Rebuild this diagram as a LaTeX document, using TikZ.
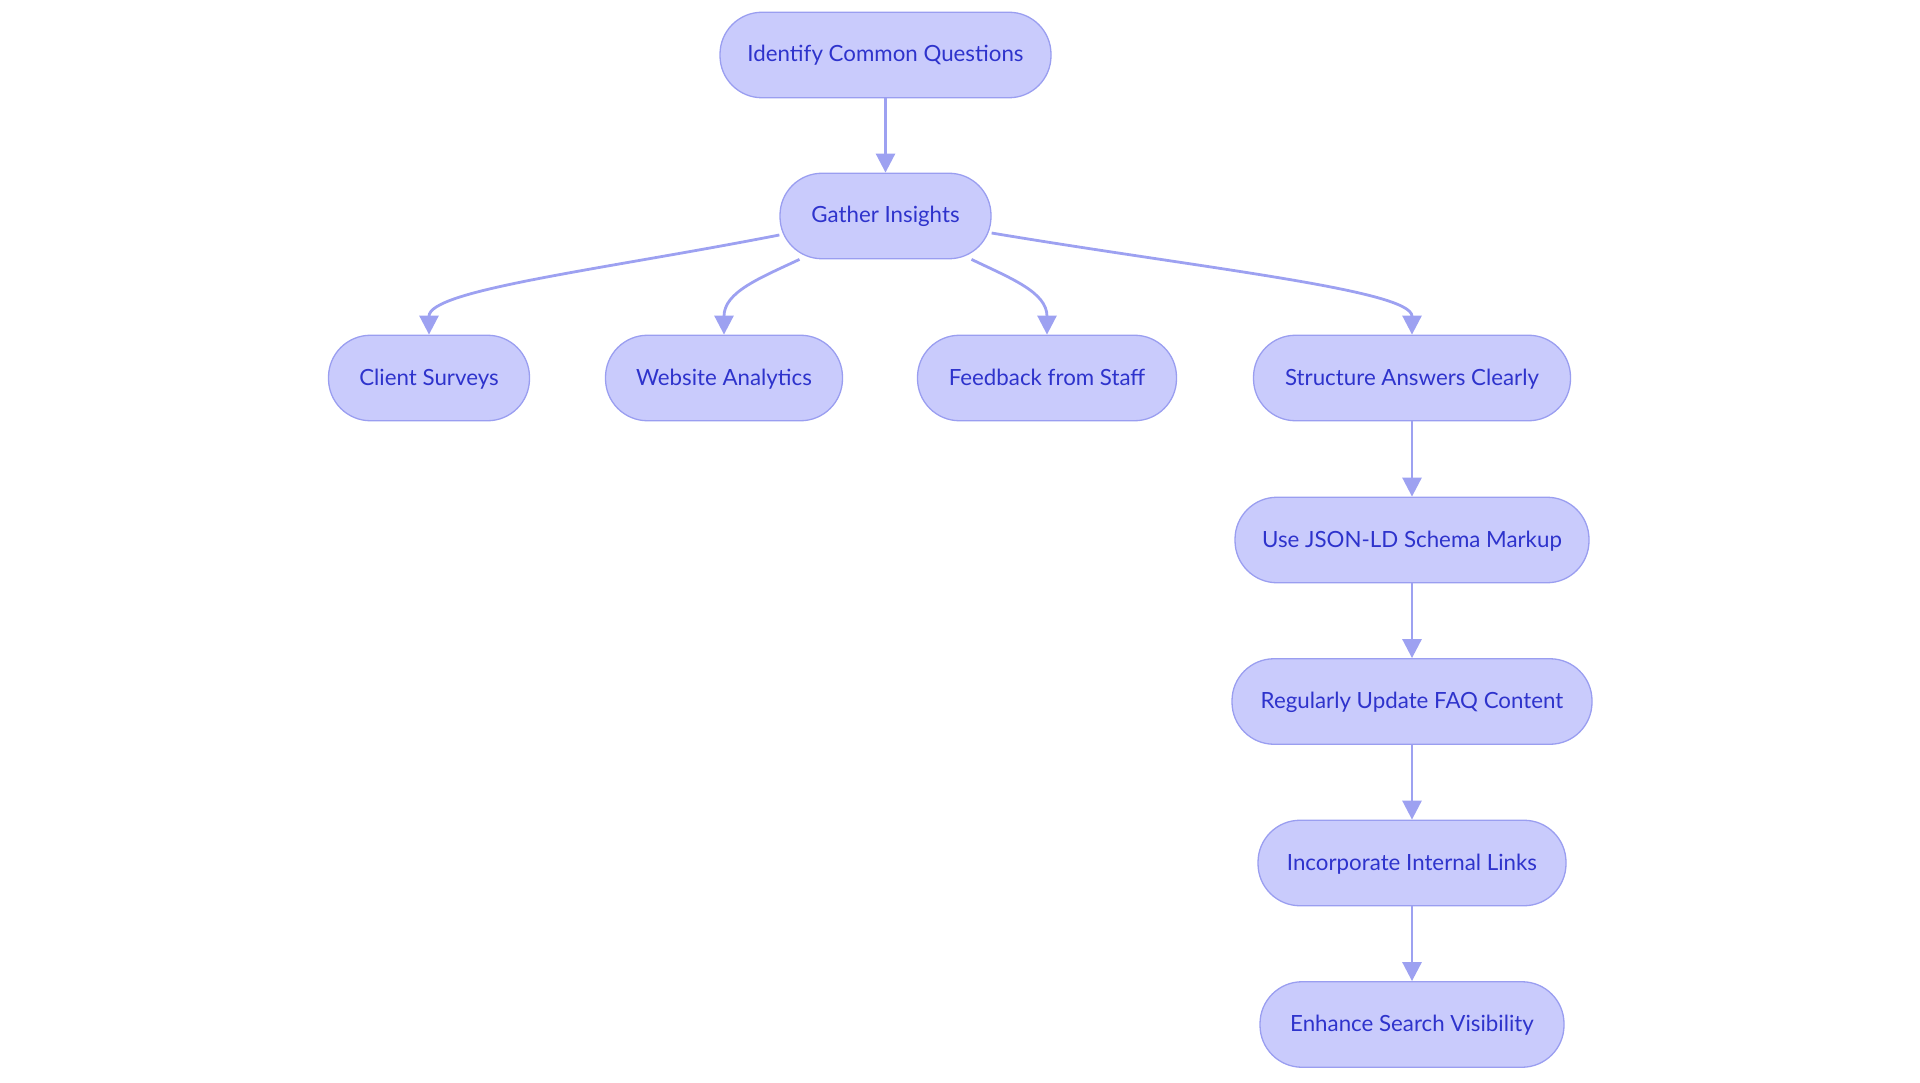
\documentclass[tikz,border=0pt]{standalone}
\usepackage{fontspec}
\setmainfont{Lato}
\usetikzlibrary{arrows.meta,calc}
\definecolor{nodefill}{HTML}{C9CBFC}
\definecolor{nodeline}{HTML}{9A9EF0}
\definecolor{nodetext}{HTML}{2E33CC}
\definecolor{edgecol}{HTML}{9DA1F1}
\tikzset{
  flowbox/.style={draw=nodeline, line width=1.3pt, fill=nodefill, text=nodetext,
    rounded corners=42pt, minimum height=85.5pt, inner sep=0pt,
    text height=19pt, text depth=5pt,
    font=\fontsize{22.3}{27}\selectfont},
  edge/.style={draw=edgecol, line width=2.8pt, -{Triangle[length=19pt,width=19pt]}}
}
\begin{document}
\begin{tikzpicture}[x=1pt,y=-1pt]
\useasboundingbox (0,0) rectangle (1920,1083);
\node[flowbox, minimum width=331pt] (ident) at (885.5,55) {Identify Common Questions};
\node[flowbox, minimum width=211pt] (gath) at (885.5,216) {Gather Insights};
\node[flowbox, minimum width=201pt] (cli) at (429,378) {Client Surveys};
\node[flowbox, minimum width=237pt] (web) at (724,378) {Website Analytics};
\node[flowbox, minimum width=259pt] (feed) at (1047,378) {Feedback from Staff};
\node[flowbox, minimum width=317pt] (struct) at (1412,378) {Structure Answers Clearly};
\node[flowbox, minimum width=354pt] (json) at (1412,540) {Use JSON-LD Schema Markup};
\node[flowbox, minimum width=360pt] (upd) at (1412,701.5) {Regularly Update FAQ Content};
\node[flowbox, minimum width=308pt] (links) at (1412,863) {Incorporate Internal Links};
\node[flowbox, minimum width=304pt] (vis) at (1412,1024.5) {Enhance Search Visibility};

\draw[edge] (ident) -- (gath);
\draw[edge] ($(gath.west)+(0,19)$) .. controls (600,270) and (429,290) .. (cli.north);
\draw[edge] ($(gath.south)+(-86,0)$) .. controls (760,278) and (724,292) .. (web.north);
\draw[edge] ($(gath.south)+(86,0)$) .. controls (1010,278) and (1047,292) .. (feed.north);
\draw[edge] ($(gath.east)+(0,17)$) .. controls (1200,268) and (1412,290) .. (struct.north);
\draw[edge] (struct) -- (json);
\draw[edge] (json) -- (upd);
\draw[edge] (upd) -- (links);
\draw[edge] (links) -- (vis);
\end{tikzpicture}
\end{document}
